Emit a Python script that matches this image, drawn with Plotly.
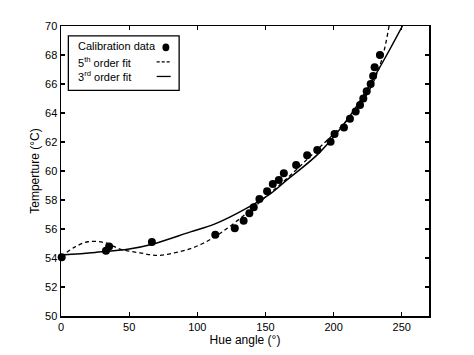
import plotly.graph_objects as go

# Calibration data
hue = [0.5, 33, 35.3, 66.7, 113.2, 127.5, 134, 138.2, 141.4, 145.6, 151.2, 155.4,
       159.8, 163.5, 172.5, 180.6, 188, 197.8, 200.7, 207.6, 212, 216.2, 219.4,
       221.8, 224.3, 227.2, 229, 230.1, 234]
temp = [54.05, 54.5, 54.8, 55.1, 55.6, 56.05, 56.57, 57.08, 57.5, 58.07, 58.6, 59.1,
        59.38, 59.84, 60.41, 61.08, 61.45, 62.02, 62.55, 63.0, 63.6, 64.1, 64.55,
        65.0, 65.5, 66.0, 66.55, 67.15, 68.0]

# 3rd order fit curve
fit3_x = [0, 25, 50, 67, 95, 113, 136, 154, 166, 190, 215, 236, 250.5]
fit3_y = [54.2, 54.38, 54.62, 54.95, 55.8, 56.35, 57.42, 58.46, 59.4, 61.3, 64.2, 67.5, 70.0]

# 5th order fit curve
fit5_x = [0, 10, 20, 32, 44, 58, 71, 84, 95, 104, 113, 122, 131.6, 139, 150, 160, 170,
          180, 190, 200, 210, 220, 230, 236, 240.7]
fit5_y = [54.1, 54.75, 55.12, 55.06, 54.6, 54.35, 54.18, 54.37, 54.65, 55.0, 55.47, 56.05,
          56.74, 57.3, 58.2, 59.0, 59.85, 60.75, 61.65, 62.55, 63.5, 64.6, 66.3, 67.9, 70.0]

x_ticks = [0, 50, 100, 150, 200, 250]
y_ticks = [50, 52, 54, 56, 58, 60, 62, 64, 66, 68, 70]

FONT = "Liberation Sans, Arial, sans-serif"

fig = go.Figure()
fig.add_trace(go.Scatter(x=fit5_x, y=fit5_y, mode="lines",
                         line=dict(color="black", width=1.3, dash="4px,3px", shape="spline"),
                         showlegend=False, hoverinfo="skip"))
fig.add_trace(go.Scatter(x=fit3_x, y=fit3_y, mode="lines",
                         line=dict(color="black", width=1.5, shape="spline"),
                         showlegend=False, hoverinfo="skip"))
fig.add_trace(go.Scatter(x=hue, y=temp, mode="markers", marker=dict(color="black", size=8),
                         showlegend=False, cliponaxis=False))

axis_common = dict(showline=True, linecolor="black", linewidth=1.5, mirror="ticks",
                   ticks="inside", ticklen=4, tickwidth=1.2, tickcolor="black",
                   showgrid=False, zeroline=False, automargin=False,
                   tickfont=dict(family=FONT, size=11, color="black"))

fig.update_xaxes(range=[0, 270], tickvals=x_ticks, ticktext=[str(v) for v in x_ticks],
                 title=dict(text="Hue angle (°)", font=dict(family=FONT, size=12, color="black"), standoff=4),
                 **axis_common)
fig.update_yaxes(range=[50, 70], tickvals=y_ticks, ticktext=[str(v) for v in y_ticks],
                 title=dict(text="Temperture (°C)", font=dict(family=FONT, size=12, color="black"), standoff=3),
                 **axis_common)

# Custom legend (box, labels, samples on the right)
shapes = [
    dict(type="rect", xref="paper", yref="paper", x0=0.020, x1=0.321, y0=0.778, y1=0.966,
         line=dict(color="black", width=1.3), fillcolor="white", layer="above"),
    dict(type="line", xref="paper", yref="paper", x0=0.260, x1=0.298, y0=0.876, y1=0.876,
         line=dict(color="black", width=1.2, dash="3px,2px")),
    dict(type="line", xref="paper", yref="paper", x0=0.260, x1=0.298, y0=0.826, y1=0.826,
         line=dict(color="black", width=1.3)),
    dict(type="circle", xref="paper", yref="paper", x0=0.2755, x1=0.2945, y0=0.913, y1=0.940,
         line=dict(color="black", width=0), fillcolor="black"),
]
labels = [("Calibration data", 0.930), ("5<sup>th</sup> order fit", 0.877), ("3<sup>rd</sup> order fit", 0.826)]
annotations = [dict(text=t, xref="paper", yref="paper", x=0.041, y=yy, xanchor="left", yanchor="middle",
                    showarrow=False, font=dict(family=FONT, size=11, color="black")) for t, yy in labels]

fig.update_layout(width=474, height=355, margin=dict(l=61, r=45, t=26, b=39),
                  plot_bgcolor="white", paper_bgcolor="white",
                  shapes=shapes, annotations=annotations, showlegend=False)

fig.write_html("out.html", config={"displayModeBar": False, "staticPlot": True},
               post_script="document.body.style.margin='0';")
